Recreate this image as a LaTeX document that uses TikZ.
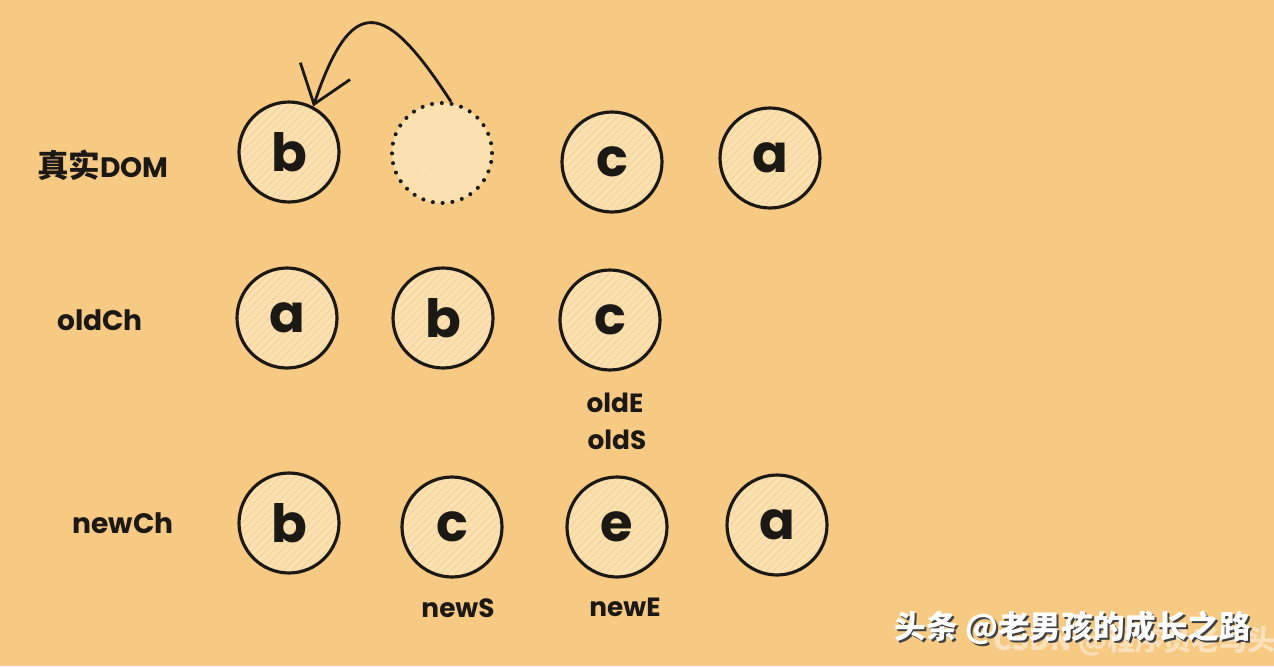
\documentclass[tikz,border=0pt]{standalone}
\usepackage{fontspec}
\setmainfont{Poppins}
\newfontfamily\cjk{Noto Sans CJK SC}
\usepackage{tikz}
\usetikzlibrary{arrows.meta}

\definecolor{bgorange}{HTML}{F7CA84}
\definecolor{discfill}{HTML}{FBE1B0}
\definecolor{hatchline}{HTML}{F3D39C}
\definecolor{inkline}{HTML}{1C1814}

\tikzset{
  disc/.style={circle, draw=inkline, line width=1.8pt, fill=discfill, minimum size=2cm, inner sep=0pt,
    font=\fontsize{30}{30}\selectfont\bfseries, text=inkline,
    path picture={\foreach \k in {-2,-1.85,...,2}
      \draw[hatchline, line width=0.5pt] ([xshift=\k cm]path picture bounding box.south west) -- ++(2cm,2cm);}},
  ghost/.style={disc, draw=inkline, line width=2.3pt, dash pattern=on 0pt off 5.6pt, line cap=round},
  rowlabel/.style={font=\fontsize{16}{16}\selectfont\bfseries, text=inkline},
  ptr/.style={font=\fontsize{15}{15}\selectfont\bfseries, text=inkline},
  wm/.style={font=\cjk\fontsize{18}{18}\selectfont\bfseries},
}

\begin{document}
\begin{tikzpicture}[x=0.02cm, y=-0.02cm, >=Straight Barb]
        % fond et cadre
        \useasboundingbox (0,0) rectangle (1274,666);
        \fill[bgorange] (0,0) rectangle (1274,666);
        % libelles des rangees
        \node[rowlabel] (lreal) at (103,165) {{\cjk\fontsize{18}{18}\selectfont\bfseries 真实}DOM};
        \node[rowlabel] (lold) at (100,320) {oldCh};
        \node[rowlabel] (lnew) at (123,523) {newCh};
        % rangee DOM reel
        \node[disc] (rb) at (289,152) {b};
        \node[ghost] (rgap) at (442,153) {};
        \node[disc] (rc) at (612,162) {c};
        \node[disc] (ra) at (770,158) {a};
        % rangee oldCh
        \node[disc] (oa) at (287,318) {a};
        \node[disc] (ob) at (443,318) {b};
        \node[disc] (oc) at (610,320) {c};
        \node[ptr] (oldE) at (615,403) {oldE};
        \node[ptr] (oldS) at (617,440) {oldS};
        % rangee newCh
        \node[disc] (nb) at (289,523) {b};
        \node[disc] (nc) at (452,527) {c};
        \node[disc] (ne) at (617,527) {e};
        \node[disc] (na) at (777,525) {a};
        \node[ptr] (newS) at (458,608) {newS};
        \node[ptr] (newE) at (625,607) {newE};
        % deplacement de b
        \draw[->, inkline, line width=1.6pt, arrows={-Straight Barb[length=0.7cm, width=1.05cm, line width=1.6pt]}]
          (rgap.80) .. controls (385,0) and (352,-8) .. (rb.62);
        % filigranes
        \node[wm, text=white, opacity=0.45] (csdn) at (1135,641) {\fontsize{16}{16}\selectfont CSDN @程序员老马头};
        \node[wm, text=black!75] (markshadow) at (1075,630) {头条 @老男孩的成长之路};
        \node[wm, text=white] (mark) at (1073,628) {头条 @老男孩的成长之路};
    \end{tikzpicture}
\end{document}
